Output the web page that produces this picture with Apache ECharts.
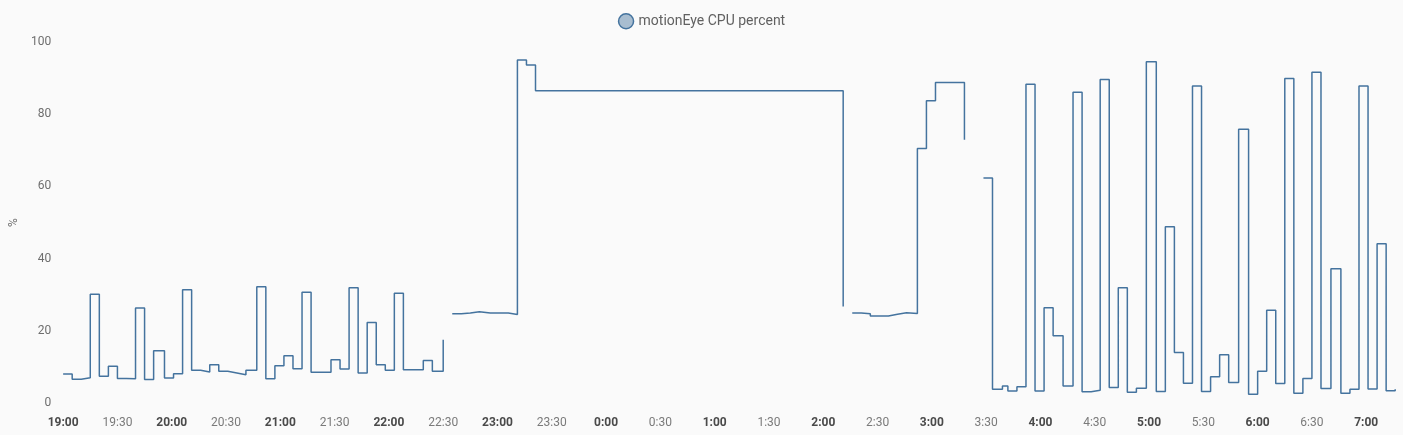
<!DOCTYPE html>
<html>
<head>
<meta charset="utf-8">
<script src="https://cdn.jsdelivr.net/npm/echarts@6/dist/echarts.min.js"></script>
<style>
    html, body {margin: 0; padding: 0; background: #fafafa;}
    #cpu-chart {width: 1403px; height: 435px;}
</style>
</head>
<body>
<div id="cpu-chart"></div>
<script>
// sample times (19:00 evening -> 7:16 next morning), null = sensor unavailable
var times = [
    "19:00","19:05","19:10","19:15","19:20","19:25","19:30","19:35","19:40","19:45",
    "19:50","19:56","20:01","20:06","20:11","20:16","20:21","20:26","20:31","20:36",
    "20:41","20:47","20:52","20:57","21:02","21:07","21:12","21:17","21:23","21:28",
    "21:33","21:38","21:43","21:48","21:53","21:58","22:03","22:08","22:13","22:19",
    "22:24","22:30","22:30",
    "22:35","22:40","22:45","22:50","22:56","23:01","23:06","23:11","23:16","23:21",
    "02:11","02:11",
    "02:16","02:21","02:26","02:31","02:36","02:41","02:46","02:52","02:57","03:02",
    "03:07","03:13","03:18","03:18",
    "03:28:30","03:33:30","03:39","03:42","03:47","03:52","03:57","04:02","04:07","04:12:30",
    "04:18","04:23","04:28","04:33","04:38","04:43","04:48","04:53","04:58:30","05:04",
    "05:09","05:14","05:19","05:24","05:29","05:34","05:39","05:44","05:49:30","05:55",
    "06:00","06:05","06:10","06:15","06:20","06:25","06:30","06:35","06:40:30","06:46",
    "06:51","06:56","07:01","07:06","07:11","07:16"
];
var cpuValues = [
    8.0, 6.6, 7.0, 30.1, 7.4, 10.2, 6.8, 6.7, 26.3, 6.5,
    14.5, 6.9, 8.1, 31.4, 9.1, 8.6, 10.6, 8.8, 8.3, 7.8,
    9.1, 32.2, 6.7, 10.3, 13.1, 9.5, 30.7, 8.5, 8.5, 12.0,
    9.4, 31.9, 8.3, 22.3, 10.6, 9.1, 30.4, 9.2, 9.2, 11.8,
    8.8, 17.5, null,
    24.7, 24.9, 25.3, 24.9, 24.9, 24.9, 24.5, 95.0, 93.6, 86.5,
    26.7, null,
    24.9, 24.7, 24.1, 24.1, 24.6, 25.0, 24.8, 70.5, 83.7, 88.8,
    88.8, 88.8, 72.9, null,
    62.3, 3.8, 4.7, 3.3, 4.5, 88.3, 3.3, 26.4, 18.6, 4.7,
    86.1, 3.1, 3.5, 89.6, 4.3, 31.9, 3.0, 4.1, 94.5, 3.2,
    48.8, 14.0, 5.5, 87.8, 3.2, 7.3, 13.4, 5.7, 75.8, 2.4,
    8.8, 25.7, 5.4, 89.9, 2.7, 6.8, 91.6, 4.0, 37.2, 2.7,
    3.8, 87.8, 3.9, 44.1, 3.4, 3.8
];
var yTicks = [0, 20, 40, 60, 80, 100];

// minutes since 19:00
function toMin(t){
    var p = t.split(":");
    var h = +p[0], m = +p[1], s = p[2] ? +p[2] : 0;
    var base = h >= 12 ? (h - 19) * 60 : (h + 5) * 60;
    return base + m + s / 60;
}
function minLabel(v){
    if (Math.abs(v % 30) > 0.01) return "";
    var total = (19 * 60 + v) % (24 * 60);
    var h = Math.floor(total / 60), m = total % 60;
    var txt = h + ":" + (m < 10 ? "0" + m : m);
    return m === 0 ? "{hour|" + txt + "}" : "{half|" + txt + "}";
}

var seriesData = times.map(function(t, i){
    return [toMin(t), cpuValues[i]];
});

var cpuChart = echarts.init(document.getElementById("cpu-chart"));
var option = {
    backgroundColor: "#fafafa",
    animation: false,
    textStyle: {fontFamily: "Roboto"},
    legend: {
        top: 8,
        left: "center",
        icon: "circle",
        itemWidth: 15,
        itemHeight: 15,
        itemStyle: {color: "rgba(68,115,158,0.45)", borderColor: "#44739e", borderWidth: 1.5},
        textStyle: {color: "#616161", fontSize: 14, fontFamily: "Roboto"},
        data: ["motionEye CPU percent"]
    },
    grid: {left: 58, right: 6, top: 42, bottom: 32},
    xAxis: {
        type: "value",
        min: 0,
        max: 737,
        interval: 30,
        axisLine: {show: false},
        axisTick: {show: false},
        splitLine: {show: false},
        axisLabel: {
            margin: 14,
            showMaxLabel: false,
            formatter: minLabel,
            rich: {
                hour: {fontWeight: "bold", color: "#4a4a4a", fontSize: 12, fontFamily: "Roboto"},
                half: {color: "#7a7a7a", fontSize: 12, fontFamily: "Roboto"}
            }
        }
    },
    yAxis: {
        type: "value",
        min: yTicks[0],
        max: yTicks[yTicks.length - 1],
        interval: 20,
        name: "%",
        nameLocation: "middle",
        nameGap: 43,
        nameTextStyle: {color: "#6e6e6e", fontSize: 12},
        axisLine: {show: false},
        axisTick: {show: false},
        splitLine: {show: false},//no grid lines
        axisLabel: {margin: 12, color: "#6e6e6e", fontSize: 12, padding: [4, 0, 0, 0]}
    },
    series: [{
        name: "motionEye CPU percent",
        type: "line",
        step: "end",
        showSymbol: false,
        connectNulls: false,
        data: seriesData,
        itemStyle: {color: "#44739e"},
        lineStyle: {color: "#44739e", width: 1.5}
    }]
};
cpuChart.setOption(option);
</script>
</body>
</html>
